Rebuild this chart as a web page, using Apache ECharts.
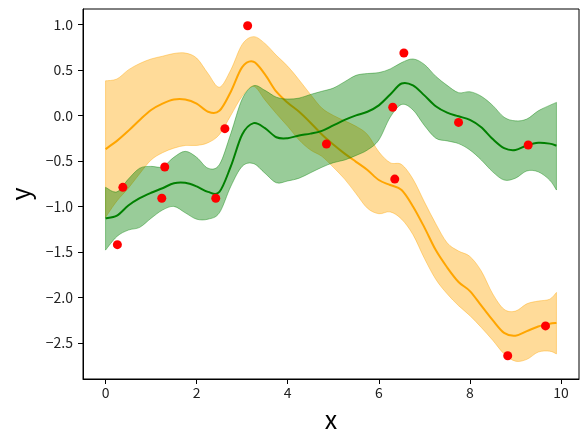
<!DOCTYPE html>
<html>
<head>
<meta charset="utf-8">
<script src="https://cdn.jsdelivr.net/npm/echarts@6/dist/echarts.min.js"></script>
<style>
html,body{margin:0;padding:0;background:#fff;}
#chart{width:587px;height:443px;}
</style>
</head>
<body>
<div id="chart"></div>
<script>
// sample positions along x
const xs = [0,0.25,0.5,0.75,1,1.25,1.5,1.75,2,2.25,2.5,2.75,3,3.25,3.5,3.75,4,4.25,4.5,4.75,5,5.25,5.5,5.75,6,6.25,6.5,6.75,7,7.25,7.5,7.75,8,8.25,8.5,8.75,9,9.25,9.5,9.75,9.9];

// orange model
const orangeMean  = [-0.37,-0.28,-0.17,-0.05,0.06,0.13,0.175,0.175,0.13,0.04,0.05,0.26,0.53,0.59,0.45,0.26,0.14,0.04,-0.08,-0.21,-0.32,-0.42,-0.51,-0.60,-0.71,-0.765,-0.82,-1.00,-1.23,-1.48,-1.67,-1.83,-1.93,-2.09,-2.25,-2.39,-2.42,-2.37,-2.32,-2.29,-2.28];
const orangeUpper = [0.38,0.40,0.50,0.57,0.62,0.65,0.68,0.685,0.63,0.46,0.31,0.50,0.78,0.865,0.79,0.66,0.54,0.39,0.23,0.08,0.00,-0.06,-0.12,-0.21,-0.40,-0.52,-0.54,-0.70,-0.95,-1.19,-1.40,-1.49,-1.55,-1.71,-1.96,-2.13,-2.15,-2.07,-2.04,-2.02,-1.945];
const orangeLower = [-1.12,-0.94,-0.80,-0.64,-0.49,-0.41,-0.36,-0.33,-0.33,-0.30,-0.21,0.00,0.21,0.32,0.17,0.02,-0.12,-0.27,-0.38,-0.45,-0.57,-0.70,-0.86,-1.02,-1.08,-1.06,-1.14,-1.31,-1.57,-1.80,-1.96,-2.09,-2.20,-2.33,-2.47,-2.62,-2.70,-2.68,-2.60,-2.59,-2.62];

// green model
const greenMean  = [-1.13,-1.10,-0.99,-0.91,-0.85,-0.80,-0.745,-0.74,-0.78,-0.84,-0.84,-0.56,-0.21,-0.085,-0.14,-0.24,-0.25,-0.22,-0.20,-0.17,-0.11,-0.05,0.00,0.04,0.11,0.23,0.35,0.33,0.22,0.10,0.03,-0.01,-0.05,-0.13,-0.26,-0.36,-0.38,-0.33,-0.30,-0.31,-0.333];
const greenUpper = [-0.79,-0.84,-0.70,-0.58,-0.56,-0.565,-0.46,-0.395,-0.46,-0.58,-0.54,-0.20,0.18,0.326,0.275,0.20,0.18,0.19,0.23,0.265,0.30,0.37,0.44,0.46,0.47,0.51,0.58,0.62,0.56,0.43,0.33,0.25,0.26,0.21,0.11,-0.02,-0.06,-0.04,0.05,0.11,0.143];
const greenLower = [-1.48,-1.33,-1.26,-1.23,-1.13,-1.04,-1.00,-1.07,-1.14,-1.14,-1.07,-0.78,-0.56,-0.53,-0.635,-0.74,-0.72,-0.69,-0.63,-0.57,-0.52,-0.49,-0.44,-0.38,-0.27,-0.02,0.12,0.06,-0.11,-0.25,-0.28,-0.31,-0.38,-0.49,-0.62,-0.71,-0.69,-0.61,-0.62,-0.71,-0.82];

// observations
const obsX = [0.26,0.38,1.235,1.30,2.42,2.62,3.12,4.85,6.305,6.35,6.55,7.75,8.83,9.28,9.66];
const obsY = [-1.42,-0.79,-0.91,-0.567,-0.91,-0.146,0.985,-0.314,0.09,-0.70,0.686,-0.077,-2.64,-0.325,-2.313];

// tick labels
const xTicks = [0,2,4,6,8,10];
const yTicks = [-2.5,-2.0,-1.5,-1.0,-0.5,0.0,0.5,1.0];

const font = '"Noto Sans CJK JP", "Noto Sans", sans-serif';

// smooth path segments (Catmull-Rom -> cubic Bezier) through pixel points
function curveTo(pts){
  let d = '';
  for(let i=0;i<pts.length-1;i++){
    const p0 = pts[Math.max(i-1,0)], p1 = pts[i], p2 = pts[i+1], p3 = pts[Math.min(i+2,pts.length-1)];
    const c1 = [p1[0]+(p2[0]-p0[0])/6, p1[1]+(p2[1]-p0[1])/6];
    const c2 = [p2[0]-(p3[0]-p1[0])/6, p2[1]-(p3[1]-p1[1])/6];
    d += ' C'+c1[0].toFixed(2)+' '+c1[1].toFixed(2)+' '+c2[0].toFixed(2)+' '+c2[1].toFixed(2)+' '+p2[0].toFixed(2)+' '+p2[1].toFixed(2);
  }
  return d;
}

function bandSeries(name, lower, upper, rgba){
  return {
    type:'custom', name:name, silent:true, data:[[xs[0], upper[0]]],
    renderItem:function(params, api){
      const up = xs.map((x,i)=>api.coord([x, upper[i]]));
      const lo = xs.map((x,i)=>api.coord([x, lower[i]])).reverse();
      let d = 'M'+up[0][0].toFixed(2)+' '+up[0][1].toFixed(2) + curveTo(up);
      d += ' L'+lo[0][0].toFixed(2)+' '+lo[0][1].toFixed(2) + curveTo(lo) + ' Z';
      return {type:'path', shape:{pathData:d}, style:{fill:rgba, stroke:rgba, lineWidth:1}};
    }
  };
}

function meanSeries(name, values, color){
  return {
    type:'custom', name:name, silent:true, data:[[xs[0], values[0]]],
    renderItem:function(params, api){
      const p = xs.map((x,i)=>api.coord([x, values[i]]));
      const d = 'M'+p[0][0].toFixed(2)+' '+p[0][1].toFixed(2) + curveTo(p);
      return {type:'path', shape:{pathData:d}, style:{fill:null, stroke:color, lineWidth:2}};
    }
  };
}

const chart = echarts.init(document.getElementById('chart'), null, {renderer:'canvas'});
const option = {
  animation:false,
  backgroundColor:'#fff',
  grid:{left:83,right:8,top:9,bottom:64,show:true,borderColor:'#000',borderWidth:1,backgroundColor:'transparent'},
  xAxis:{
    type:'value', min:-0.495, max:10.395,
    name:'x', nameLocation:'middle', nameGap:28,
    nameTextStyle:{fontFamily:font,fontSize:25,color:'#000'},
    axisLine:{show:true,onZero:false,lineStyle:{color:'#000',width:1}},
    axisTick:{show:true,length:5,lineStyle:{color:'#000'},customValues:xTicks},
    axisLabel:{fontFamily:font,fontSize:14,color:'#222',margin:7,customValues:xTicks,formatter:v=>String(v)},
    splitLine:{show:false}
  },
  yAxis:{
    type:'value', min:-2.896, max:1.169,
    name:'y', nameLocation:'middle', nameGap:50, nameRotate:90,
    nameTextStyle:{fontFamily:font,fontSize:25,color:'#000'},
    axisLine:{show:true,onZero:false,lineStyle:{color:'#000',width:1}},
    axisTick:{show:true,length:5,lineStyle:{color:'#000'},customValues:yTicks},
    axisLabel:{fontFamily:font,fontSize:14,color:'#222',margin:10,customValues:yTicks,
      formatter:v=>(v<0?'\u2212':'')+Math.abs(v).toFixed(1)},
    splitLine:{show:false}
  },
  series:[
    bandSeries('orangeBand', orangeLower, orangeUpper, 'rgba(255,165,0,0.4)'),
    meanSeries('orangeMean', orangeMean, '#FFA500'),
    bandSeries('greenBand', greenLower, greenUpper, 'rgba(0,128,0,0.4)'),
    meanSeries('greenMean', greenMean, '#008000'),
    {type:'scatter', name:'obs', data:obsX.map((x,i)=>[x,obsY[i]]), symbol:'circle', symbolSize:9,
     itemStyle:{color:'#FF0000',opacity:1}, z:10, silent:true}
  ]
};
chart.setOption(option);
</script>
</body>
</html>
